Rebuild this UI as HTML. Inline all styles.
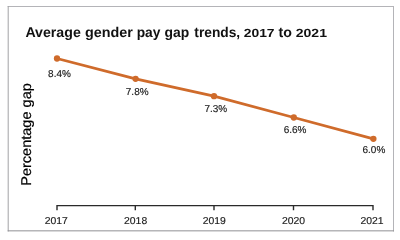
<!DOCTYPE html>
<html><head><meta charset="utf-8">
<style>
html,body{margin:0;padding:0;background:#fff;width:400px;height:240px;overflow:hidden}
svg{display:block;will-change:transform}
text{font-family:"Liberation Sans",sans-serif;text-rendering:geometricPrecision}
</style></head><body>
<svg width="400" height="240" viewBox="0 0 400 240">
<g fill="none" stroke-width="1">
<path d="M7.7,6.5 H394" stroke="#b4b4b8"/>
<path d="M393.5,6 V231.5" stroke="#b4b4b8"/>
<path d="M8.2,6 V231.5" stroke="#a2a2a6"/>
<path d="M7.7,230.85 H394" stroke="#909094"/>
</g>
<g font-size="14.1" font-weight="bold" fill="#111">
<text x="25.40" y="36.5" textLength="55.40" lengthAdjust="spacingAndGlyphs">Average</text>
<text x="84.90" y="36.5" textLength="47.90" lengthAdjust="spacingAndGlyphs">gender</text>
<text x="136.70" y="36.5" textLength="23.80" lengthAdjust="spacingAndGlyphs">pay</text>
<text x="164.50" y="36.5" textLength="24.70" lengthAdjust="spacingAndGlyphs">gap</text>
<text x="194.30" y="36.5" textLength="45.90" lengthAdjust="spacingAndGlyphs">trends,</text>
<text x="243.70" y="36.5" font-size="11.8" textLength="30.90" lengthAdjust="spacingAndGlyphs">2017</text>
<text x="278.50" y="36.5" textLength="13.40" lengthAdjust="spacingAndGlyphs">to</text>
<text x="295.70" y="36.5" font-size="11.8" textLength="31.30" lengthAdjust="spacingAndGlyphs">2021</text>
</g>
<text transform="translate(31,185.8) rotate(-90)" font-size="14.2" fill="#000" stroke="#000" stroke-width="0.2" textLength="102.6" lengthAdjust="spacingAndGlyphs">Percentage gap</text>
<polyline points="57,58.5 135.6,78.8 214,96.2 293.8,117.5 373.4,138.8" fill="none" stroke="#cf6b2b" stroke-width="2.8" stroke-linejoin="round"/>
<g fill="#cf6b2b"><circle cx="57" cy="58.5" r="3.15"/><circle cx="135.6" cy="78.8" r="3.15"/><circle cx="214" cy="96.2" r="3.15"/><circle cx="293.8" cy="117.5" r="3.15"/><circle cx="373.4" cy="138.8" r="3.15"/></g>
<g font-size="10" fill="#1a1a1a" stroke="#1a1a1a" stroke-width="0.15" text-anchor="middle">
<text transform="translate(59.5,76.6) scale(1.0,1)">8.4%</text>
<text transform="translate(137.2,95.1) scale(1.0,1)">7.8%</text>
<text transform="translate(215.8,112.4) scale(1.0,1)">7.3%</text>
<text transform="translate(295.1,133.4) scale(1.0,1)">6.6%</text>
<text transform="translate(373.9,153.2) scale(1.0,1)">6.0%</text>
</g>
<path d="M57,210.3 V205.6 H373 V210.3 M135.3,205.6 V210.3 M214,205.6 V210.3 M293.5,205.6 V210.3" fill="none" stroke="#2a2a2a" stroke-width="1.4"/>
<g font-size="10" fill="#1a1a1a" stroke="#1a1a1a" stroke-width="0.15" text-anchor="middle">
<text transform="translate(56.3,223.9) scale(1.04,1)">2017</text>
<text transform="translate(135.6,223.9) scale(1.04,1)">2018</text>
<text transform="translate(214.3,223.9) scale(1.04,1)">2019</text>
<text transform="translate(293.5,223.9) scale(1.04,1)">2020</text>
<text transform="translate(372,223.9) scale(1.04,1)">2021</text>
</g>
</svg>
</body></html>
